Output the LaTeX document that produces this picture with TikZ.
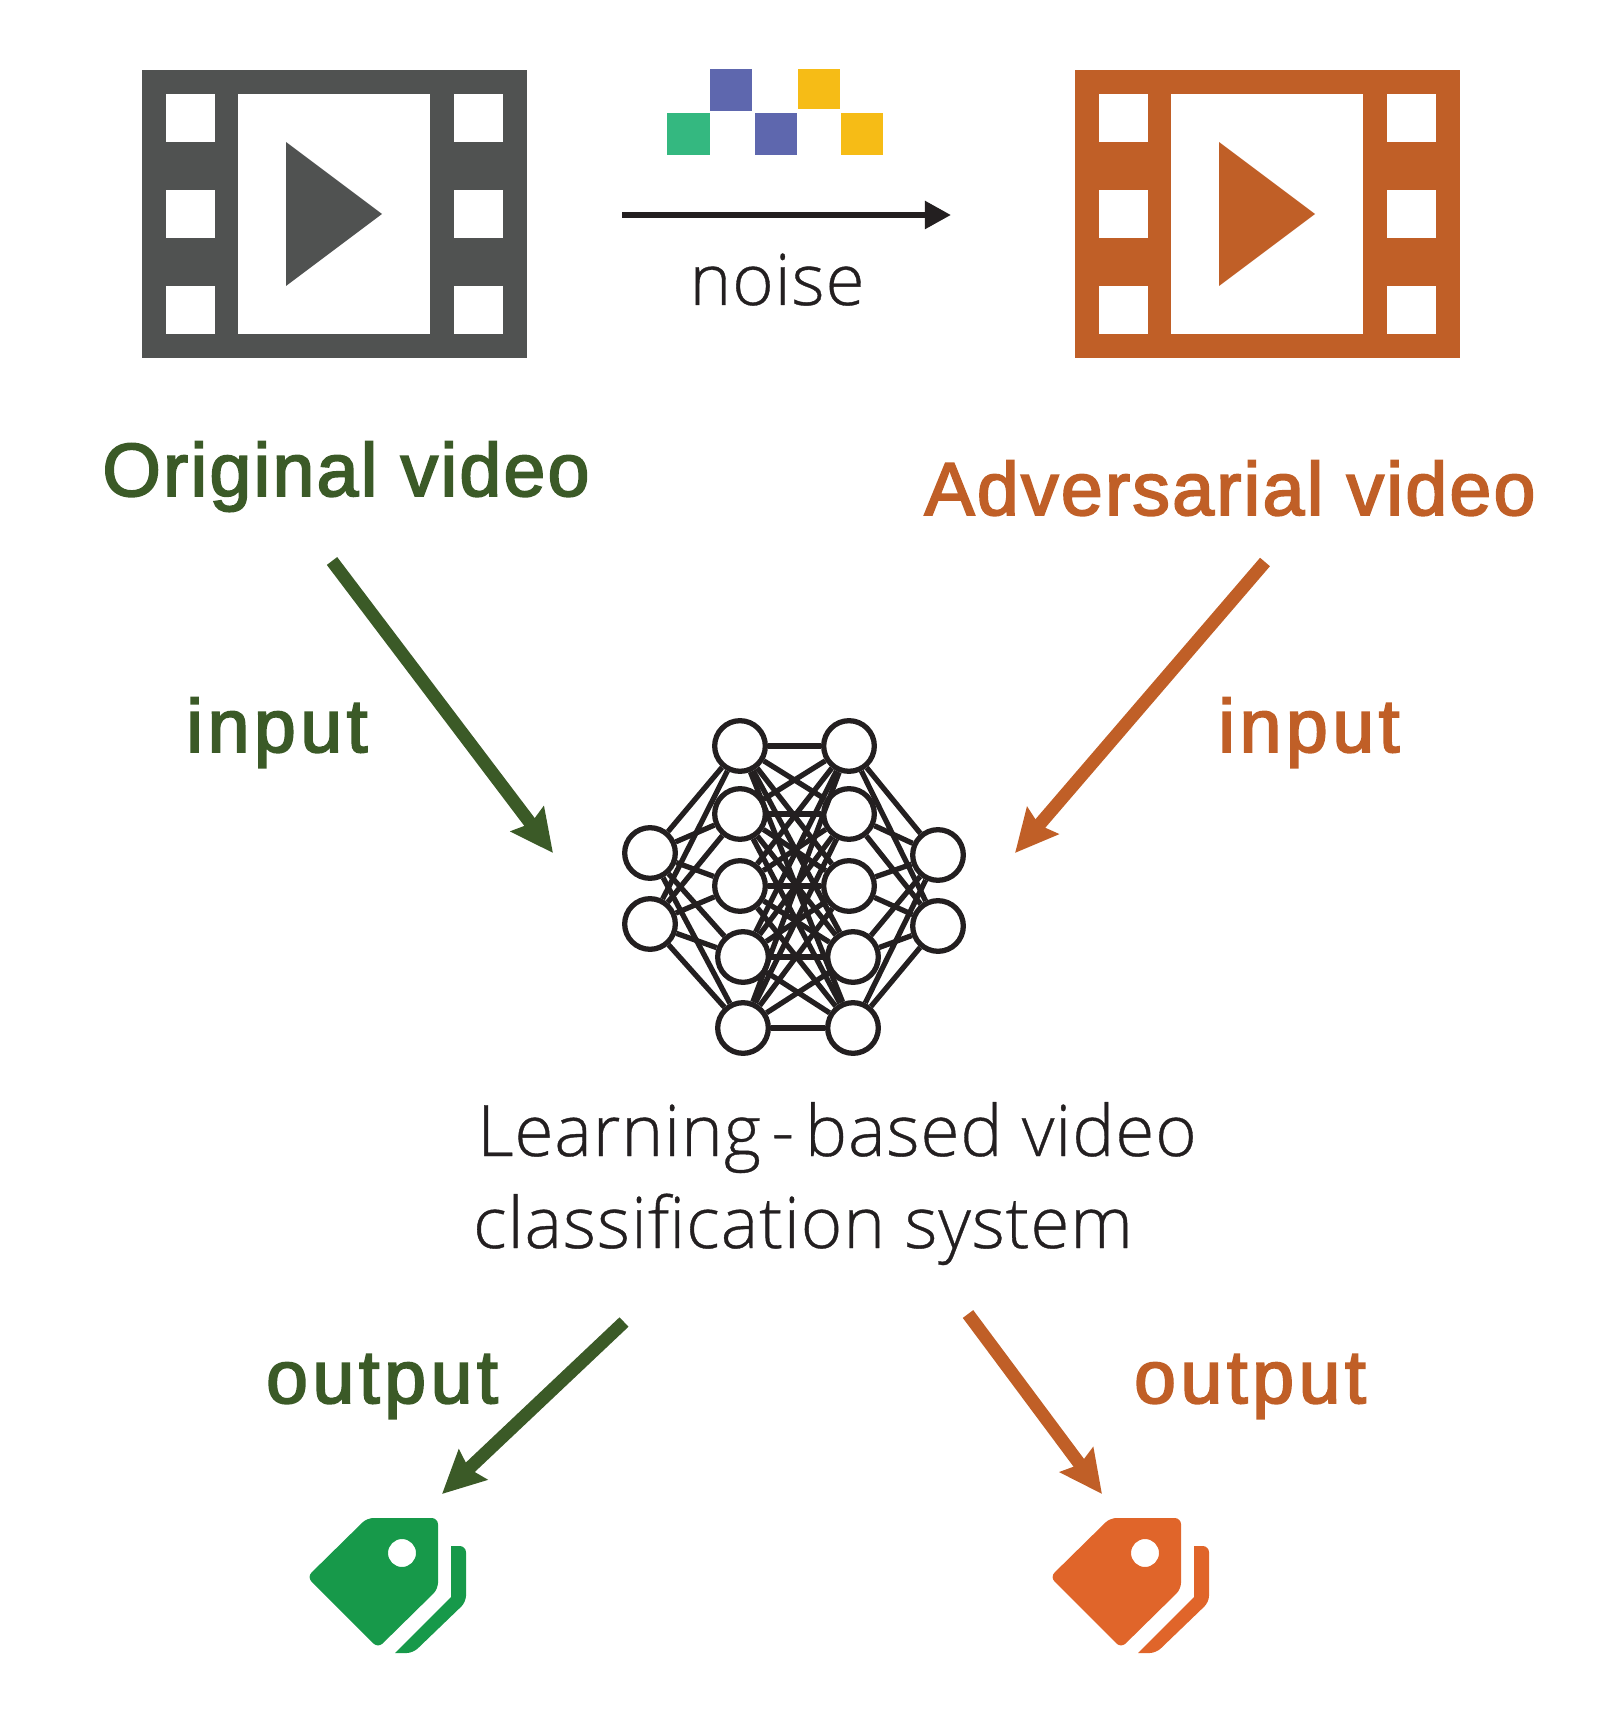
\documentclass[tikz,border=0pt]{standalone}
\usepackage{fontspec}
\setmainfont{Open Sans}
\newfontfamily\boldlabel[FakeBold=2.5,LetterSpace=6]{Liberation Sans}
\newfontfamily\longlabel[FakeBold=2.5,LetterSpace=3]{Liberation Sans}
\newfontfamily\thinlabel[FakeBold=0.5,LetterSpace=1.2]{Open Sans Light}
\usetikzlibrary{arrows.meta}
\definecolor{inkblack}{HTML}{231F20}
\definecolor{filmgray}{HTML}{505251}
\definecolor{advorange}{HTML}{C05F27}
\definecolor{origgreen}{HTML}{3B5A27}
\definecolor{tagorange}{HTML}{E0652A}
\definecolor{taggreen}{HTML}{17994A}
\definecolor{noiseblue}{HTML}{5E67AE}
\definecolor{noisegreen}{HTML}{34B880}
\definecolor{noiseyellow}{HTML}{F6BC16}
\tikzset{
  neuron/.style={circle,draw=inkblack,fill=white,line width=1.5pt,minimum size=14.4pt,inner sep=0pt},
  synapse/.style={draw=inkblack,line width=1.5pt},
  flow/.style={line width=3.7pt,-{Stealth[length=12pt,width=11.5pt,inset=1.5pt]}},
  biglabel/.style={font=\boldlabel\fontsize{21.4}{21.4}\selectfont,anchor=base},
  titlelabel/.style={font=\longlabel\fontsize{21.4}{21.4}\selectfont,anchor=base},
  thinlabel/.style={font=\thinlabel\fontsize{20.2}{20.2}\selectfont,anchor=base},
}
\begin{document}
\begin{tikzpicture}[x=0.01cm,y=-0.01cm]
    \useasboundingbox (0,0) rectangle (1605,1710);
    % two film strips
    \foreach \filmx/\filmcol in {142/filmgray,1075/advorange}{
        \begin{scope}[shift={(\filmx,70)}]
            \fill[\filmcol] (0,0) rectangle (385,288);
            \fill[white] (96,24) rectangle (288,264);
            \foreach \holey in {24,120,216}{
                \fill[white] (24,\holey) rectangle +(49,48);
                \fill[white] (312,\holey) rectangle +(49,48);
            }
            \fill[\filmcol] (144,72) -- (240,144) -- (144,216) -- cycle;
        \end{scope}
    }
    % noise
    \fill[noisegreen] (667,113) rectangle (710,155);
    \fill[noiseblue] (710,69) rectangle (752,111);
    \fill[noiseblue] (755,113) rectangle (797,155);
    \fill[noiseyellow] (798,69) rectangle (840,109);
    \fill[noiseyellow] (841,113) rectangle (883,155);
    \coordinate (noisefrom) at (622,215);
    \coordinate (noiseto) at (951,215);
    \draw[inkblack,line width=1.7pt,-{Triangle[length=7.4pt,width=7.6pt]}] (noisefrom) -- (noiseto);
    \node[thinlabel,text=inkblack] (noise) at (777,305) {noise};
    % labels
    \node[titlelabel,text=origgreen] (orig) at (346,496) {Original video};
    \node[titlelabel,text=advorange] (adv) at (1230,515) {Adversarial video};
    \node[biglabel,text=origgreen] (inleft) at (277,752) {input};
    \node[biglabel,text=advorange] (inright) at (1309,752) {input};
    \node[biglabel,text=origgreen] (outleft) at (382,1403) {output};
    \node[biglabel,text=advorange] (outright) at (1250,1403) {output};
    \node[thinlabel,text=inkblack] (sysa) at (837,1156) {Learning\kern3pt-\kern3pt based video};
    \node[thinlabel,text=inkblack] (sysb) at (803,1248) {classification system};
    % network
    \foreach \i/\nx/\ny in {1/650/853,2/650/924}{
        \node[neuron] (a\i) at (\nx,\ny) {};
    }
    \foreach \i/\nx/\ny in {1/740/746,2/740/814,3/740/886,4/743/957,5/743/1028}{
        \node[neuron] (b\i) at (\nx,\ny) {};
    }
    \foreach \i/\nx/\ny in {1/849/746,2/849/814,3/849/886,4/853/957,5/853/1028}{
        \node[neuron] (c\i) at (\nx,\ny) {};
    }
    \foreach \i/\nx/\ny in {1/938/855,2/938/926}{
        \node[neuron] (d\i) at (\nx,\ny) {};
    }
    \foreach \i in {1,2}{
        \foreach \j in {1,...,5}{
            \draw[synapse] (a\i) -- (b\j);
            \draw[synapse] (c\j) -- (d\i);
        }
    }
    \foreach \i in {1,...,5}{
        \foreach \j in {1,...,5}{
            \draw[synapse] (b\i) -- (c\j);
        }
    }
    % arrows
    \coordinate (origfoot) at (332,561);
    \coordinate (netleft) at (553,853);
    \coordinate (advfoot) at (1265,562);
    \coordinate (netright) at (1015,853);
    \coordinate (sysleft) at (624,1322);
    \coordinate (tagleft) at (442,1494);
    \coordinate (sysright) at (968,1314);
    \coordinate (tagright) at (1102,1494);
    \draw[flow,origgreen] (origfoot) -- (netleft);
    \draw[flow,advorange] (advfoot) -- (netright);
    \draw[flow,origgreen] (sysleft) -- (tagleft);
    \draw[flow,advorange] (sysright) -- (tagright);
    % tags
    \foreach \tagx/\tagcol in {0/taggreen,743/tagorange}{
        \begin{scope}[shift={(\tagx,0)}]
            \fill[\tagcol,rounded corners=1.8pt,even odd rule] (367,1518) -- (438,1518) -- (438,1589) -- (378,1648) -- (307,1577) -- cycle
                (402,1553) circle[radius=14];
            \fill[\tagcol,rounded corners=1.8pt] (451,1546) -- (466,1546) -- (466,1602) -- (413,1653) [sharp corners] -- (395,1653) -- (451,1597) -- cycle;
        \end{scope}
    }
\end{tikzpicture}
\end{document}
